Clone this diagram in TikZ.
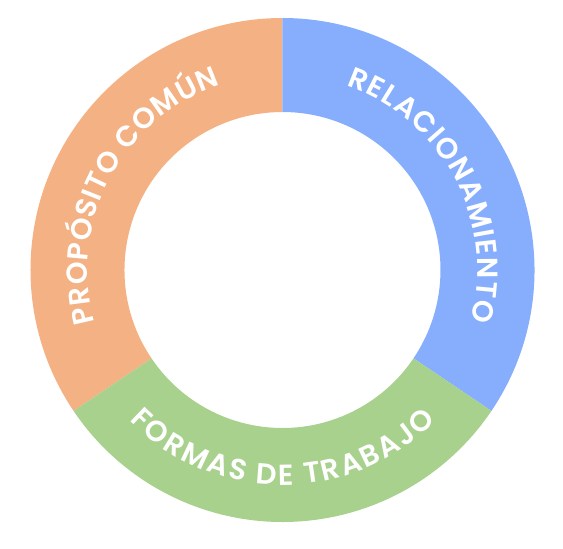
\documentclass[tikz,border=0pt]{standalone}
\usepackage{fontspec}
\setmainfont{Poppins}
\newfontfamily\segfont{Poppins SemiBold}
\usetikzlibrary{decorations.text}
\definecolor{segorange}{HTML}{F4B183}
\definecolor{segblue}{HTML}{86AEFD}
\definecolor{seggreen}{HTML}{A9D18E}
\tikzset{
  seglabel/.style={decorate, decoration={text along path, text align={fit to path},
      text={|\color{white}\segfont\fontsize{14.5}{17}\selectfont|#1}}}
}
\begin{document}
\begin{tikzpicture}[x=0.5pt,y=0.5pt]
\useasboundingbox (-282.5,-278) rectangle (280.5,270);
\def\R{252}\def\r{158}
\fill[segorange] (90:\R) arc[start angle=90,end angle=214,radius=\R] -- (214:\r) arc[start angle=214,end angle=90,radius=\r] -- cycle;
\fill[segblue] (-34:\R) arc[start angle=-34,end angle=90,radius=\R] -- (90:\r) arc[start angle=90,end angle=-34,radius=\r] -- cycle;
\fill[seggreen] (214:\R) arc[start angle=214,end angle=326,radius=\R] -- (326:\r) arc[start angle=326,end angle=214,radius=\r] -- cycle;
\path[seglabel={PROPÓSITO COMÚN}] (195.5:195) arc[start angle=195.5,end angle=108.5,radius=195];
\path[seglabel={RELACIONAMIENTO}] (71:195) arc[start angle=71,end angle=-15,radius=195];
\path[seglabel={FORMAS DE TRABAJO}] (224.5:215) arc[start angle=224.5,end angle=315.5,radius=215];
\end{tikzpicture}
\end{document}
